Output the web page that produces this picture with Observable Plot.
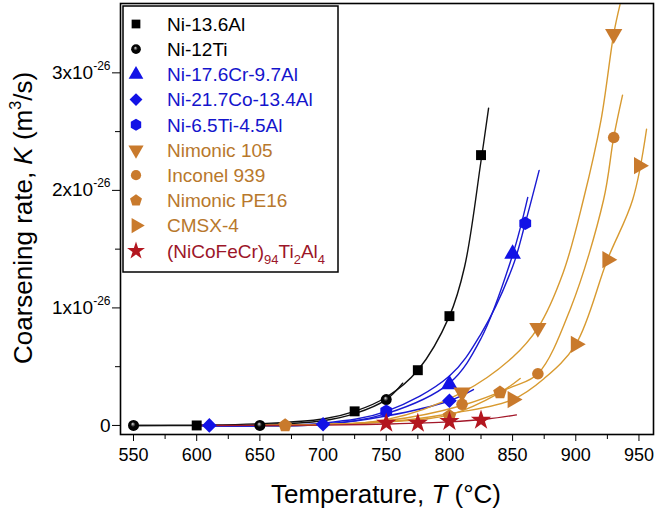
<!DOCTYPE html>
<html>
<head>
<meta charset="utf-8">
<script src="https://cdn.jsdelivr.net/npm/d3@7"></script>
<script src="https://cdn.jsdelivr.net/npm/@observablehq/plot@0.6"></script>
<style>
  body { margin: 0; background: #fff; }
  #chart { width: 658px; height: 514px; }
</style>
</head>
<body>
<svg width="0" height="0" style="position:absolute">
  <defs>
    <radialGradient id="ball" cx="50%" cy="50%" r="50%" fx="42%" fy="35%">
      <stop offset="0" stop-color="#f0f0f0"/>
      <stop offset="0.2" stop-color="#707070"/>
      <stop offset="0.45" stop-color="#050505"/>
      <stop offset="1" stop-color="#000"/>
    </radialGradient>
  </defs>
</svg>
<div id="chart"></div>
<script>
// Coarsening rate K, in units of 1e-26 m^3/s, against ageing temperature in °C.
const alloys = [
  "Ni-13.6Al", "Ni-12Ti", "Ni-17.6Cr-9.7Al", "Ni-21.7Co-13.4Al", "Ni-6.5Ti-4.5Al",
  "Nimonic 105", "Inconel 939", "Nimonic PE16", "CMSX-4", "(NiCoFeCr)94Ti2Al4"
];

// Measured points
const pointT = [
  [600, 725, 775, 800, 825],
  [550, 650, 750],
  [800, 850],
  [610, 700, 800],
  [750, 860],
  [810, 870, 930],
  [810, 870, 930],
  [670, 800, 840],
  [850, 900, 925, 950],
  [750, 775, 800, 825]
];
const pointK = [
  [0, 0.12, 0.47, 0.93, 2.30],
  [0, 0, 0.22],
  [0.35, 1.46],
  [0, 0.01, 0.21],
  [0.12, 1.72],
  [0.28, 0.83, 3.33],
  [0.18, 0.44, 2.45],
  [0, 0.08, 0.28],
  [0.22, 0.69, 1.41, 2.21],
  [0.02, 0.02, 0.035, 0.045]
];

// Fitted Arrhenius curves, sampled along each line
const fitT = [
  [550, 600, 650, 700, 725, 750, 775, 800, 812, 825, 831],
  [550, 650, 700, 725, 750, 763],
  [600, 700, 750, 800, 825, 850, 862],
  [610, 700, 750, 800, 819],
  [600, 700, 750, 800, 825, 850, 860, 871],
  [650, 750, 810, 850, 870, 890, 906, 920, 930, 935],
  [650, 750, 810, 850, 870, 896, 922, 930, 937],
  [650, 750, 800, 840, 856],
  [650, 750, 800, 850, 875, 900, 925, 945, 956],
  [600, 700, 750, 800, 830, 853]
];
const fitK = [
  [0, 0.003, 0.015, 0.055, 0.12, 0.24, 0.47, 0.93, 1.35, 2.25, 2.7],
  [0, 0.005, 0.04, 0.1, 0.22, 0.36],
  [0, 0.01, 0.1, 0.36, 0.74, 1.45, 1.94],
  [0, 0.01, 0.08, 0.21, 0.305],
  [0, 0.02, 0.12, 0.42, 0.78, 1.35, 1.72, 2.17],
  [0, 0.05, 0.28, 0.58, 0.83, 1.3, 1.92, 2.6, 3.33, 3.58],
  [0, 0.04, 0.17, 0.33, 0.44, 1.0, 1.92, 2.45, 2.81],
  [0, 0.03, 0.09, 0.28, 0.4],
  [0, 0.03, 0.1, 0.22, 0.4, 0.69, 1.41, 1.92, 2.52],
  [0, 0.003, 0.012, 0.03, 0.055, 0.09]
];

// Axis ticks
const xTicks = [550, 600, 650, 700, 750, 800, 850, 900, 950];
const xMinor = [575, 625, 675, 725, 775, 825, 875, 925];
const yTicks = [0, 1, 2, 3];
const yMinor = [0.5, 1.5, 2.5];

// Marker shapes
const hexagon = {
  draw(ctx, size) {
    const r = Math.sqrt(size / (1.5 * Math.sqrt(3)));
    for (let i = 0; i < 6; ++i) {
      const a = Math.PI / 6 + i * Math.PI / 3;
      i ? ctx.lineTo(r * Math.cos(a), r * Math.sin(a)) : ctx.moveTo(r * Math.cos(a), r * Math.sin(a));
    }
    ctx.closePath();
  }
};
const pentagon = {
  draw(ctx, size) {
    const r = Math.sqrt(size / (2.5 * Math.sin(2 * Math.PI / 5)));
    for (let i = 0; i < 5; ++i) {
      const a = -Math.PI / 2 + i * 2 * Math.PI / 5;
      i ? ctx.lineTo(r * Math.cos(a), r * Math.sin(a)) : ctx.moveTo(r * Math.cos(a), r * Math.sin(a));
    }
    ctx.closePath();
  }
};
const shapes = [d3.symbolSquare, d3.symbolCircle, d3.symbolTriangle, d3.symbolDiamond2, hexagon,
                d3.symbolTriangle, d3.symbolCircle, pentagon, d3.symbolTriangle, d3.symbolStar];
const rotations = [0, 0, 0, 0, 0, 180, 0, 0, 90, 0];
const radii = [5.6, 5.5, 6.2, 6.6, 6.2, 6.4, 5.8, 6.2, 6.4, 6.4];

const BLACK = "#000000", BLUE = "#1212e6", ORANGE = "#c97a2c", RED = "#b3161f";
const markerFill = [BLACK, "url(#ball)", BLUE, BLUE, BLUE, ORANGE, ORANGE, ORANGE, ORANGE, RED];
const lineColor = ["#111111", "#111111", "#1a1ad2", "#1a1ad2", "#1a1ad2",
                   "#d89a30", "#d89a30", "#d89a30", "#d89a30", "#a3182a"];
const textColor = ["#000000", "#000000", "#1414cc", "#1414cc", "#1414cc",
                   "#b8782c", "#b8782c", "#b8782c", "#b8782c", "#9c1629"];

const table = (T, K) => T.map((t, j) => ({t, k: K[j]}));

const svg = Plot.plot({
  width: 658,
  height: 514,
  marginLeft: 120,
  marginRight: 5,
  marginTop: 3,
  marginBottom: 80,
  style: {fontFamily: "'Liberation Sans', Arial, sans-serif", fontSize: "18px", color: "#000", background: "#fff"},
  x: {domain: [539.7, 961.5]},
  y: {domain: [-0.077, 3.59]},
  marks: [
    Plot.axisX({ticks: xTicks, tickSize: 7, tickPadding: 7, label: null, tickFormat: d => String(d)}),
    Plot.axisX({ticks: xMinor, tickSize: 5, label: null, tickFormat: () => ""}),
    Plot.axisY({ticks: yTicks, tickSize: 8, tickPadding: 2, label: null, fontSize: 19,
                tickFormat: d => d === 0 ? "0" : `${d}x10`}),
    Plot.axisY({ticks: yMinor, tickSize: 5, label: null, tickFormat: () => ""}),
    ...alloys.map((name, i) => Plot.line(table(fitT[i], fitK[i]), {
      x: "t", y: "k", stroke: lineColor[i], strokeWidth: 1.4, curve: "catmull-rom", clip: true
    })),
    ...alloys.map((name, i) => Plot.dot(table(pointT[i], pointK[i]), {
      x: "t", y: "k", symbol: shapes[i], r: radii[i], fill: markerFill[i], rotate: rotations[i]
    })),
    Plot.frame({stroke: "#000", strokeWidth: 1.6})
  ]
});

const root = d3.select(svg);

// Exponent on the y tick labels
root.selectAll('g[aria-label="y-axis tick label"] text').each(function () {
  const t = d3.select(this);
  if (t.text() !== "0" && t.text() !== "") {
    t.append("tspan").attr("dy", "-9").attr("font-size", "12px").text("-26");
  }
});

// Axis titles
const xt = root.append("text")
  .attr("x", 386).attr("y", 503)
  .attr("text-anchor", "middle").attr("font-size", "26px").attr("fill", "#000");
xt.append("tspan").text("Temperature, ");
xt.append("tspan").attr("font-style", "italic").text("T");
xt.append("tspan").text(" (°C)");

const yt = root.append("text")
  .attr("transform", "translate(32,218) rotate(-90)")
  .attr("text-anchor", "middle").attr("font-size", "26px").attr("fill", "#000");
yt.append("tspan").text("Coarsening rate, ");
yt.append("tspan").attr("font-style", "italic").text("K");
yt.append("tspan").text(" (m");
yt.append("tspan").attr("dy", "-11").attr("font-size", "16px").text("3");
yt.append("tspan").attr("dy", "11").text("/s)");

// Legend
const lg = root.append("g").attr("aria-label", "legend").attr("text-anchor", "start");
lg.append("rect")
  .attr("x", 123).attr("y", 6).attr("width", 215).attr("height", 266)
  .attr("fill", "#fff").attr("stroke", "#000").attr("stroke-width", 1.5);
alloys.forEach((name, i) => {
  const cy = 24 + i * 25.2;
  const rl = radii[i] * 0.88;
  lg.append("path")
    .attr("d", d3.symbol(shapes[i], Math.PI * rl * rl)())
    .attr("transform", `translate(136,${cy}) rotate(${rotations[i]})`)
    .attr("fill", markerFill[i]);
  const txt = lg.append("text")
    .attr("x", 167).attr("y", cy).attr("dy", "0.36em")
    .attr("text-anchor", "start")
    .attr("font-size", "19px").attr("fill", textColor[i]);
  const m = name.match(/^\((.*)\)(\d+)Ti(\d+)Al(\d+)$/);
  if (m) {
    txt.append("tspan").text(`(${m[1]})`);
    txt.append("tspan").attr("dy", "6").attr("font-size", "13px").text(m[2]);
    txt.append("tspan").attr("dy", "-6").text("Ti");
    txt.append("tspan").attr("dy", "6").attr("font-size", "13px").text(m[3]);
    txt.append("tspan").attr("dy", "-6").text("Al");
    txt.append("tspan").attr("dy", "6").attr("font-size", "13px").text(m[4]);
  } else {
    txt.text(name);
  }
});

document.getElementById("chart").appendChild(svg);
</script>
</body>
</html>
